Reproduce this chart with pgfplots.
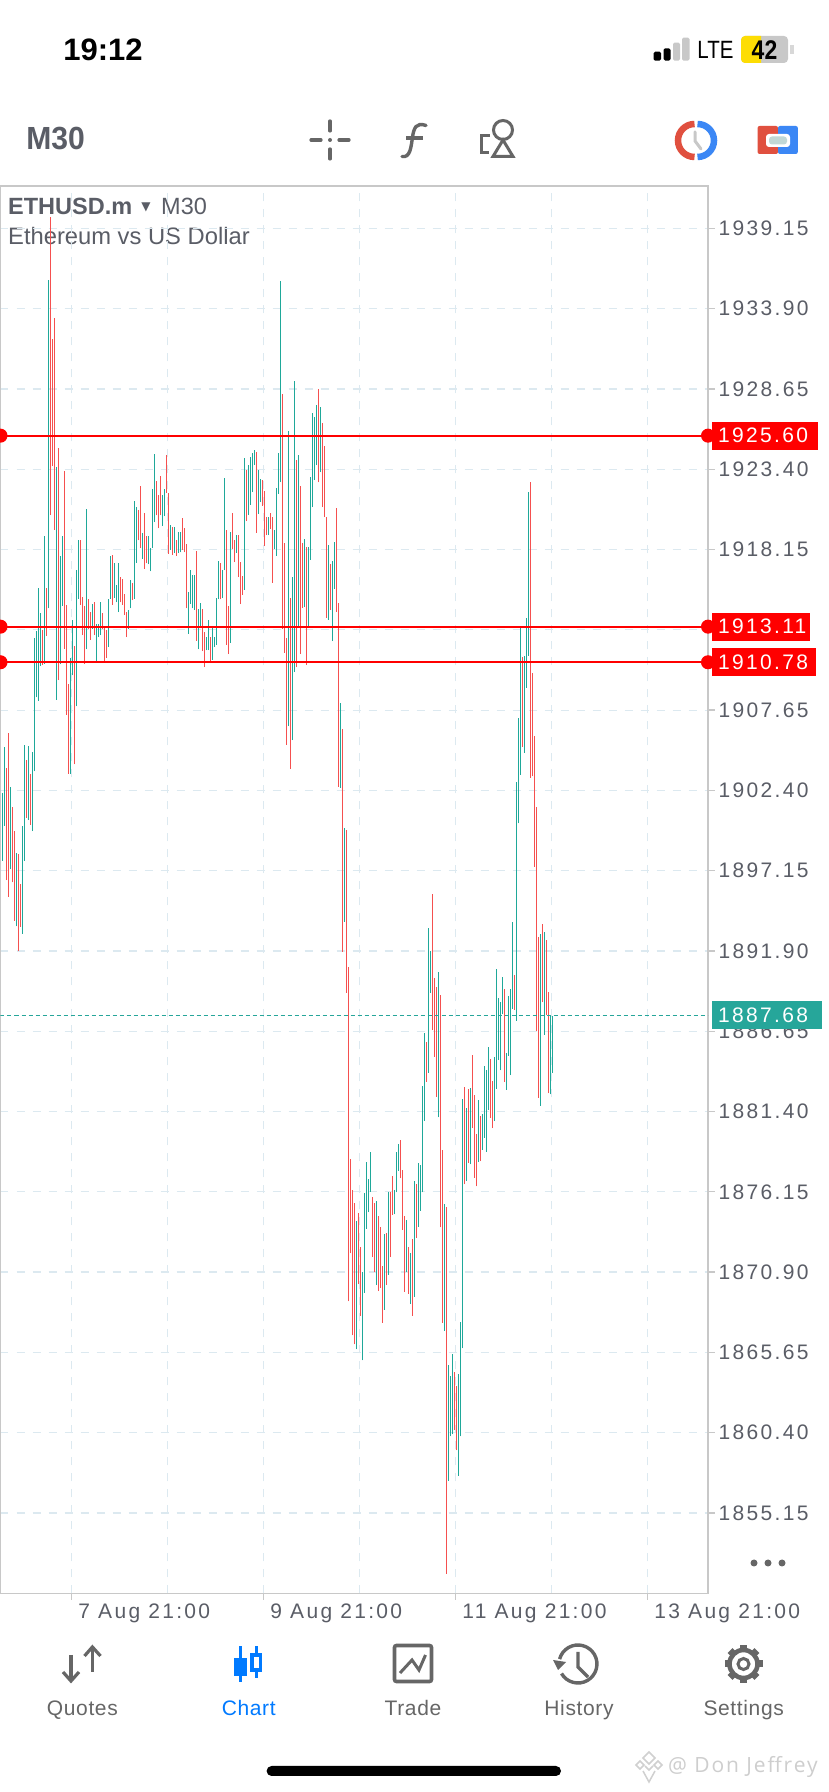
\documentclass[border=0pt]{standalone}
\usepackage{fontspec}
\usepackage{pgfplots}
\usepackage{pgfplotstable}
\pgfplotsset{compat=1.18}
\setmainfont{Liberation Sans}
\newfontfamily\ls[LetterSpace=11]{Liberation Sans}
\newfontfamily\nav[LetterSpace=3]{Liberation Sans}
\newfontfamily\wm[LetterSpace=9]{Open Sans}
\definecolor{upc}{HTML}{1FA899}
\definecolor{dnc}{HTML}{F5504F}
\definecolor{teal}{HTML}{26A69A}
\definecolor{frm}{HTML}{C8C8C8}
\definecolor{gridc}{HTML}{DCE9F0}
\definecolor{txt}{HTML}{5A5D66}
\definecolor{ico}{HTML}{666666}
\definecolor{blu}{HTML}{007AFF}
\definecolor{ired}{HTML}{E0503F}
\definecolor{iblu}{HTML}{3B87F5}

\pgfplotstableread{
i hi lo
0 1902.24 1897.79
1 1905.21 1900.08
4 1902.64 1897.23
7 1898.33 1893.51
10 1900.08 1893.04
11 1905.36 1897.79
13 1905.30 1900.45
15 1904.93 1899.74
16 1912.34 1903.64
17 1912.81 1908.49
18 1915.62 1908.27
19 1914.00 1910.56
21 1919.07 1910.68
23 1935.80 1914.31
27 1923.54 1908.34
29 1917.75 1910.68
30 1919.07 1914.47
34 1911.09 1903.49
35 1913.56 1909.93
37 1916.81 1907.90
38 1918.75 1914.94
42 1920.82 1911.62
45 1914.62 1912.97
47 1913.28 1910.87
48 1913.28 1912.43
49 1914.75 1912.56
53 1914.94 1911.81
54 1917.75 1914.94
56 1917.28 1915.00
57 1915.84 1914.69
58 1917.25 1914.06
63 1914.22 1912.97
64 1916.16 1914.31
66 1921.35 1914.94
67 1920.94 1917.28
70 1919.22 1917.56
73 1919.07 1917.19
74 1918.25 1916.72
75 1922.13 1918.25
76 1924.38 1919.94
80 1921.72 1919.69
81 1922.13 1920.32
84 1919.78 1918.13
86 1919.63 1917.91
88 1919.32 1917.91
89 1919.32 1917.97
93 1915.37 1912.65
94 1916.81 1914.62
95 1916.50 1914.31
96 1916.47 1914.22
98 1914.28 1911.62
99 1914.66 1913.03
102 1912.45 1911.58
103 1913.54 1911.58
105 1913.03 1910.93
106 1912.45 1911.79
107 1914.99 1911.91
108 1917.40 1914.90
110 1916.81 1915.01
111 1922.84 1916.81
114 1919.29 1912.05
117 1919.10 1917.93
121 1924.15 1915.53
123 1923.68 1920.41
124 1924.20 1921.07
125 1924.48 1921.91
126 1924.66 1923.68
128 1923.35 1920.48
129 1922.77 1921.25
133 1920.27 1919.10
136 1919.45 1918.21
137 1922.19 1917.75
138 1924.48 1921.79
139 1935.74 1922.56
143 1925.92 1906.61
145 1916.35 1905.69
146 1929.19 1910.13
148 1924.34 1913.08
151 1918.85 1914.38
153 1918.31 1913.08
154 1922.89 1917.47
155 1927.05 1920.92
156 1926.81 1922.70
157 1927.63 1923.68
159 1927.47 1923.21
163 1918.45 1913.57
165 1917.40 1912.16
166 1918.64 1915.58
169 1908.12 1902.56
171 1899.94 1893.80
177 1874.25 1865.85
180 1870.90 1865.12
181 1876.08 1869.56
182 1878.09 1873.73
183 1876.99 1874.80
184 1878.76 1876.14
187 1875.53 1870.05
191 1873.40 1868.43
193 1876.14 1870.72
196 1876.26 1874.68
197 1878.76 1876.11
198 1879.27 1877.54
202 1874.31 1870.93
204 1872.18 1868.80
206 1876.84 1869.29
208 1878.03 1873.85
209 1877.90 1874.92
210 1883.08 1876.11
211 1886.52 1880.80
213 1893.40 1883.93
214 1891.88 1889.17
218 1890.51 1881.01
221 1875.35 1867.06
223 1864.81 1857.26
224 1864.08 1860.15
225 1865.54 1860.30
228 1864.23 1857.59
229 1867.64 1860.15
230 1882.23 1865.91
232 1881.62 1876.87
234 1882.93 1877.94
238 1882.14 1878.09
240 1881.25 1878.91
241 1884.36 1879.70
242 1884.12 1878.76
243 1885.61 1881.50
246 1884.97 1880.77
247 1890.72 1882.90
248 1888.84 1884.76
249 1888.56 1884.09
250 1890.21 1887.77
252 1885.21 1882.81
253 1888.96 1885.06
254 1889.41 1883.78
255 1893.80 1888.11
257 1902.97 1887.34
258 1907.14 1900.24
259 1913.03 1903.42
261 1911.19 1904.87
262 1913.69 1909.12
263 1921.94 1911.22
269 1893.01 1881.78
271 1893.15 1886.43
274 1887.71 1882.52
275 1887.65 1883.94
}\upbars

\pgfplotstableread{
i hi lo
2 1903.89 1896.54
3 1906.15 1895.45
5 1901.33 1896.39
6 1899.77 1893.88
8 1898.26 1891.91
9 1896.29 1893.48
12 1904.36 1900.61
14 1903.49 1900.14
20 1912.90 1910.62
22 1915.62 1912.50
24 1939.92 1920.41
25 1931.95 1923.60
26 1933.30 1919.44
28 1924.76 1909.62
31 1923.29 1911.65
32 1914.53 1907.34
33 1909.37 1903.49
36 1911.87 1904.11
39 1918.75 1914.53
40 1915.06 1912.56
41 1914.44 1910.68
43 1914.94 1912.97
44 1914.06 1912.25
46 1914.69 1912.56
50 1914.00 1912.97
51 1913.12 1910.87
52 1912.87 1911.09
55 1917.81 1914.53
59 1916.38 1914.69
60 1916.25 1914.53
61 1915.25 1913.87
62 1914.06 1912.43
65 1915.94 1914.84
68 1920.75 1918.75
69 1922.32 1918.28
71 1920.54 1916.88
72 1919.07 1917.25
77 1922.66 1920.38
78 1921.72 1919.53
79 1922.98 1920.38
82 1924.32 1921.88
83 1921.88 1917.88
85 1919.63 1917.81
87 1918.75 1917.75
90 1920.22 1918.13
91 1919.53 1917.97
92 1918.53 1914.31
97 1918.06 1912.18
100 1914.27 1911.51
101 1912.75 1910.46
104 1912.45 1910.81
109 1917.28 1914.90
112 1919.45 1911.91
113 1914.48 1911.32
115 1920.55 1918.17
116 1918.80 1917.33
118 1919.10 1916.35
119 1917.33 1914.59
120 1916.42 1915.18
122 1923.35 1920.01
127 1924.52 1919.24
130 1922.72 1921.02
131 1921.98 1918.38
132 1920.27 1919.10
134 1920.55 1919.52
135 1920.27 1915.97
140 1928.33 1912.98
141 1918.59 1911.39
142 1912.38 1905.37
144 1914.99 1903.80
147 1924.01 1910.46
149 1922.33 1911.32
150 1918.59 1914.34
152 1918.31 1910.62
158 1928.68 1922.54
160 1926.44 1920.92
161 1924.94 1920.27
162 1920.27 1913.68
164 1917.21 1914.20
167 1920.90 1914.06
168 1914.66 1902.63
170 1906.42 1891.85
172 1899.81 1889.17
173 1890.85 1868.98
174 1878.27 1872.12
175 1876.29 1866.76
176 1875.44 1866.18
178 1874.77 1870.11
179 1872.55 1868.04
185 1875.83 1871.88
186 1875.41 1870.90
188 1874.56 1869.65
189 1873.85 1869.87
190 1871.33 1867.58
192 1873.46 1870.08
194 1876.14 1871.88
195 1877.17 1874.65
199 1879.55 1877.02
200 1877.57 1873.67
201 1874.56 1869.62
203 1872.55 1869.47
205 1873.06 1868.04
207 1876.69 1873.12
212 1885.94 1883.36
215 1895.63 1886.74
216 1890.15 1884.97
217 1889.54 1882.38
219 1889.02 1873.82
220 1878.88 1867.58
222 1875.16 1851.17
226 1864.35 1860.58
227 1863.44 1859.24
231 1882.99 1876.63
233 1882.87 1878.06
235 1885.09 1880.31
236 1882.47 1877.08
237 1879.91 1876.50
239 1881.10 1878.15
244 1884.85 1880.98
245 1883.39 1880.31
251 1889.41 1883.32
256 1890.33 1888.07
260 1911.11 1905.26
264 1922.59 1903.22
265 1910.11 1903.31
266 1905.97 1897.41
267 1901.32 1886.69
268 1892.81 1882.29
270 1893.66 1888.56
272 1892.62 1887.71
273 1889.21 1882.58
}\downbars

\begin{document}
\begin{tikzpicture}
\useasboundingbox (0pt,0pt) rectangle (828pt,1792pt);
\fill[white] (0pt,0pt) rectangle (828pt,1792pt);

% px coordinate scope (y downward)
\begin{scope}[x=1pt,y=-1pt,yshift=1792pt]
% status bar
\node[anchor=center,inner sep=0pt,font=\fontsize{31}{31}\selectfont\bfseries] at (103,50) {19:12};
\fill[black,rounded corners=1.5pt] (653.6,60.7) rectangle (661,51.7);
\fill[black,rounded corners=1.5pt] (663.7,60.7) rectangle (670.5,48.3);
\fill[frm,rounded corners=1.5pt] (673,60.7) rectangle (680,42.7);
\fill[frm,rounded corners=1.5pt] (682,60.7) rectangle (689.5,37.7);
\node[inner sep=0pt] at (715.5,50) {\scalebox{0.82}[1]{\fontsize{25}{25}\selectfont LTE}};
\fill[frm,rounded corners=4pt] (741,36) rectangle (788,63);
\begin{scope}
\clip (741,36) rectangle (761,63);
\fill[yellow!80!orange,rounded corners=4pt] (741,36) rectangle (788,63);
\end{scope}
\fill[frm!70!white] (790,45) rectangle (794,54);
\node[inner sep=0pt] at (764.5,50) {\scalebox{0.85}[1]{\fontsize{27}{27}\selectfont\bfseries 42}};
% toolbar
\node[inner sep=0pt,text=txt] at (55.6,139) {\scalebox{0.94}[1]{\fontsize{32}{32}\selectfont\bfseries M30}};
\draw[ico,line width=3.2pt,line cap=round] (330,121)--(330,131) (330,149)--(330,159) (311,140)--(321,140) (339,140)--(349,140);
\fill[ico] (330,140) circle[radius=2];
\draw[ico,line width=3.4pt,line cap=round] (426,125.5) .. controls (416,122) and (414,128) .. (412.5,137) .. controls (411,148) and (410,158) .. (402,156.5);
\draw[ico,line width=3.2pt] (406,138)--(423,138);
\draw[ico,line width=3pt] (503,130) circle[radius=9.5];
\draw[ico,line width=3pt,line join=miter] (503,140)--(513,156.5)--(493,156.5)--cycle;
\draw[ico,line width=3pt] (490,135.5)--(481,135.5)--(481,153)--(489,153);
% clock icon
\draw[ired,line width=6.5pt] (694.5,124) arc[start angle=-90,end angle=-270,radius=16.5];
\draw[iblu,line width=6.5pt] (697.5,124) arc[start angle=-90,end angle=90,radius=16.5];
\draw[frm,line width=3pt,line cap=round] (695,132)--(695,141)--(701,149);
% toggle icon
\fill[ired,rounded corners=2pt] (757.6,126) rectangle (778,154);
\fill[iblu,rounded corners=2pt] (778,126) rectangle (797.8,154);
\fill[white,rounded corners=3pt] (766,134) rectangle (790,147);
\fill[frm!70!teal!60,rounded corners=3pt] (769,136.5) rectangle (787,144.5);
% header
\node[anchor=west,inner sep=0pt,text=txt] at (8,206) {\fontsize{23.5}{24}\selectfont\textbf{ETHUSD.m}};
\node[anchor=center,inner sep=0pt,text=txt] at (146,207) {\fontsize{12}{12}\selectfont\fontspec{DejaVu Sans}▼};
\node[anchor=west,inner sep=0pt,text=txt] at (161,206) {\fontsize{23.5}{24}\selectfont M30};
\node[anchor=west,inner sep=0pt,text=txt] at (8,236) {\fontsize{23.75}{24}\selectfont Ethereum vs US Dollar};
\end{scope}

\begin{axis}[
  at={(0.5pt,198.5pt)},anchor=south west,
  scale only axis,width=707.5pt,height=1407.5pt,
  xmin=-1,xmax=352.75,ymin=1849.88,ymax=1941.93,
  clip=true,clip mode=global,
  axis line style={color=frm,line width=1.6pt},
  xtick pos=bottom,ytick pos=right,
  tick align=outside,
  major tick length=6.5pt,minor tick length=0pt,
  tick style={color=frm,line width=1.4pt},
  xtick={34.5,130.5,226.5,322.5},
  xticklabels={7 Aug 21:00,9 Aug 21:00,11 Aug 21:00,13 Aug 21:00},
  minor xtick={82.5,178.5,274.5},
  ytick={1939.15,1933.90,1928.65,1923.40,1918.15,1912.90,1907.65,1902.40,1897.15,1891.90,1886.65,1881.40,1876.15,1870.90,1865.65,1860.40,1855.15},
  yticklabels={1939.15,1933.90,1928.65,1923.40,1918.15,{},1907.65,1902.40,1897.15,1891.90,1886.65,1881.40,1876.15,1870.90,1865.65,1860.40,1855.15},
  grid=both,
  major grid style={gridc,line width=1.2pt,dash pattern=on 8pt off 8pt},
  minor grid style={gridc,line width=1.2pt,dash pattern=on 8pt off 8pt},
  yticklabel style={anchor=west,inner sep=0pt,xshift=4pt,text=txt,font=\fontsize{21}{21}\selectfont\ls},
  xticklabel style={anchor=north west,inner sep=0pt,xshift=6.7pt,yshift=-4pt,text=txt,font=\fontsize{21}{21}\selectfont\ls},
]
\addplot[draw=none,mark=none,forget plot,
  error bars/.cd,y dir=plus,y explicit,error mark=none,
  error bar style={color=upc,line width=1.15pt}]
  table[x=i,y=lo,y error expr=\thisrow{hi}-\thisrow{lo}] {\upbars};
\addplot[draw=none,mark=none,forget plot,
  error bars/.cd,y dir=plus,y explicit,error mark=none,
  error bar style={color=dnc,line width=1.15pt}]
  table[x=i,y=lo,y error expr=\thisrow{hi}-\thisrow{lo}] {\downbars};
\addplot[red,line width=2pt,mark=*,mark size=6pt,mark options={fill=red,draw=none,solid}] coordinates {(-1,1925.60) (352.75,1925.60)};
\addplot[red,line width=2pt,mark=*,mark size=6pt,mark options={fill=red,draw=none,solid}] coordinates {(-1,1913.11) (352.75,1913.11)};
\addplot[red,line width=2pt,mark=*,mark size=6pt,mark options={fill=red,draw=none,solid}] coordinates {(-1,1910.78) (352.75,1910.78)};
\addplot[teal,line width=1.8pt,dash pattern=on 4pt off 3pt] coordinates {(-1,1887.68) (352.75,1887.68)};
\coordinate (ba) at (axis cs:352.75,1925.60);
\coordinate (bb) at (axis cs:352.75,1913.11);
\coordinate (bc) at (axis cs:352.75,1910.78);
\coordinate (bd) at (axis cs:352.75,1887.68);
\end{axis}

\tikzset{badge/.style={anchor=west,xshift=4pt,inner sep=0pt,minimum height=28pt,text=white,font=\fontsize{21}{21}\selectfont\ls}}
\node[badge,fill=red] at (ba) {\makebox[106pt][l]{\hspace*{6pt}1925.60}};
\node[badge,fill=red] at (bb) {\makebox[98pt][l]{\hspace*{6pt}1913.11}};
\node[badge,fill=red] at (bc) {\makebox[104pt][l]{\hspace*{6pt}1910.78}};
\node[badge,fill=teal] at (bd) {\makebox[110pt][l]{\hspace*{6pt}1887.68}};

\begin{scope}[x=1pt,y=-1pt,yshift=1792pt]
% three dots
\fill[ico] (754,1563) circle[radius=3.5] (768,1563) circle[radius=3.5] (782,1563) circle[radius=3.5];
% Quotes icon
\draw[ico,line width=3.2pt] (71,1655)--(71,1680) (92.4,1672)--(92.4,1648);
\draw[ico,line width=3.2pt,line join=miter] (63,1672)--(71,1681)--(79,1672);
\draw[ico,line width=3.2pt,line join=miter] (84.5,1656)--(92.4,1647)--(100.5,1656);
% Chart icon
\fill[blu] (238.5,1646) rectangle (241.5,1682);
\fill[blu] (234,1658) rectangle (246.6,1676);
\fill[blu] (254.5,1646) rectangle (257.5,1678);
\fill[blu] (250,1653) rectangle (262.4,1672);
\fill[white] (253.5,1657) rectangle (258.5,1668);
% Trade icon
\draw[ico,line width=3.6pt,rounded corners=2pt] (394.5,1645.5) rectangle (431.5,1681.5);
\draw[ico,line width=3pt] (400,1673)--(412,1660)--(419,1670)--(425.5,1655);
% History icon
\draw[ico,line width=3.4pt] (561.5,1673.5) arc[start angle=150,end angle=-165,radius=19];
\fill[ico] (553,1660) -- (566,1662) -- (558,1670) -- cycle;
\draw[ico,line width=3.4pt] (578,1652)--(578,1667)--(588,1677);
% Settings icon
\draw[ico,line width=4.6pt] (743.5,1664) circle[radius=14];
\draw[ico,line width=3pt] (743.5,1664) circle[radius=5.5];
\foreach \a in {0,45,...,315}{\draw[ico,line width=7pt] (743.5,1664)+(\a:13.5)--+(\a:19);}
% Labels
\node[anchor=base,inner sep=0pt,text=ico] at (82.4,1716) {\fontsize{21}{21}\selectfont\nav Quotes};
\node[anchor=base,inner sep=0pt,text=blu] at (248.7,1716) {\fontsize{21}{21}\selectfont\nav Chart};
\node[anchor=base,inner sep=0pt,text=ico] at (413,1716) {\fontsize{21}{21}\selectfont\nav Trade};
\node[anchor=base,inner sep=0pt,text=ico] at (579,1716) {\fontsize{21}{21}\selectfont\nav History};
\node[anchor=base,inner sep=0pt,text=ico] at (743.7,1716) {\fontsize{21}{21}\selectfont\nav Settings};
% home bar
\fill[black,rounded corners=5pt] (266.6,1766) rectangle (561,1776);
% watermark
\begin{scope}[frm!85!white,line width=1.5pt]
\draw (649,1752)--(655,1758)--(649,1764)--(643,1758)--cycle;
\draw (640,1761)--(644,1765)--(640,1769)--(636,1765)--cycle;
\draw (658,1761)--(662,1765)--(658,1769)--(654,1765)--cycle;
\draw (643,1771)--(649,1782)--(655,1771);
\draw (645,1766)--(649,1770)--(653,1766);
\end{scope}
\node[anchor=west,inner sep=0pt,text=frm!90!white] at (668,1767) {\fontsize{21}{21}\selectfont\wm @ Don Jeffrey};
\end{scope}
\end{tikzpicture}
\end{document}
